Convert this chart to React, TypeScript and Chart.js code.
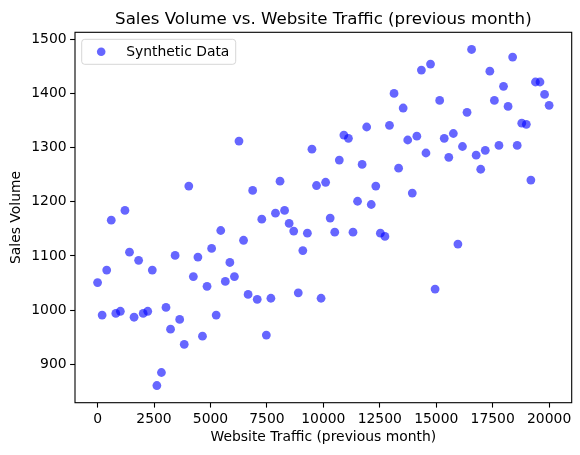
import React, { useEffect, useRef } from "react";
import { Chart, registerables } from "chart.js";

Chart.register(...registerables);

// ---- data ----
const websiteTraffic: number[] = [
  0, 202, 404, 606, 808, 1010, 1212, 1414, 1616, 1818,
  2020, 2222, 2424, 2626, 2828, 3030, 3232, 3434, 3636, 3838,
  4040, 4242, 4444, 4646, 4848, 5051, 5253, 5455, 5657, 5859,
  6061, 6263, 6465, 6667, 6869, 7071, 7273, 7475, 7677, 7879,
  8081, 8283, 8485, 8687, 8889, 9091, 9293, 9495, 9697, 9899,
  10101, 10303, 10505, 10707, 10909, 11111, 11313, 11515, 11717, 11919,
  12121, 12323, 12525, 12727, 12929, 13131, 13333, 13535, 13737, 13939,
  14141, 14343, 14545, 14747, 14949, 15152, 15354, 15556, 15758, 15960,
  16162, 16364, 16566, 16768, 16970, 17172, 17374, 17576, 17778, 17980,
  18182, 18384, 18586, 18788, 18990, 19192, 19394, 19596, 19798, 20000,
];

const salesVolume: number[] = [
  1051, 991, 1074, 1166, 994, 998, 1184, 1107, 987, 1092,
  994, 998, 1074, 861, 885, 1005, 965, 1101, 983, 937,
  1229, 1062, 1098, 952, 1044, 1114, 991, 1147, 1053, 1088,
  1062, 1312, 1129, 1029, 1221, 1020, 1168, 954, 1022, 1179,
  1238, 1184, 1160, 1146, 1032, 1110, 1142, 1297, 1230, 1022,
  1236, 1170, 1144, 1277, 1323, 1317, 1144, 1201, 1269, 1338,
  1195, 1229, 1142, 1136, 1341, 1400, 1262, 1373, 1314, 1216,
  1321, 1443, 1290, 1454, 1039, 1387, 1317, 1282, 1326, 1122,
  1302, 1365, 1481, 1286, 1260, 1295, 1441, 1387, 1304, 1413,
  1376, 1467, 1304, 1345, 1343, 1240, 1421, 1421, 1398, 1378,
];

const xTickValues: number[] = [0, 2500, 5000, 7500, 10000, 12500, 15000, 17500, 20000];
const yTickValues: number[] = [900, 1000, 1100, 1200, 1300, 1400, 1500];

const xLimits: number[] = [-1000, 21000];
const yLimits: number[] = [829.3, 1512.7];

const chartTitle = "Sales Volume vs. Website Traffic (previous month)";
const xAxisTitle = "Website Traffic (previous month)";
const yAxisTitle = "Sales Volume";
const seriesLabel = "Synthetic Data";

const FONT = "'DejaVu Sans', sans-serif";
const POINT_COLOR = "rgba(0, 0, 255, 0.6)";

const decorPlugin = {
  id: "mplDecor",
  afterDraw(chart: any) {
    const { ctx, chartArea } = chart;
    const { left, right, top, bottom } = chartArea;
    ctx.save();
    // frame
    ctx.strokeStyle = "#000";
    ctx.lineWidth = 1.1;
    ctx.strokeRect(left, top, right - left, bottom - top);
    // title
    ctx.fillStyle = "#000";
    ctx.font = `16.67px ${FONT}`;
    ctx.textAlign = "center";
    ctx.textBaseline = "alphabetic";
    ctx.fillText(chartTitle, (left + right) / 2, top - 8.4);
    // legend
    const bx = left + 6.7;
    const by = top + 7;
    const bw = 154;
    const bh = 25;
    const r = 3;
    ctx.beginPath();
    ctx.moveTo(bx + r, by);
    ctx.lineTo(bx + bw - r, by);
    ctx.quadraticCurveTo(bx + bw, by, bx + bw, by + r);
    ctx.lineTo(bx + bw, by + bh - r);
    ctx.quadraticCurveTo(bx + bw, by + bh, bx + bw - r, by + bh);
    ctx.lineTo(bx + r, by + bh);
    ctx.quadraticCurveTo(bx, by + bh, bx, by + bh - r);
    ctx.lineTo(bx, by + r);
    ctx.quadraticCurveTo(bx, by, bx + r, by);
    ctx.closePath();
    ctx.fillStyle = "rgba(255,255,255,0.8)";
    ctx.fill();
    ctx.strokeStyle = "rgba(204,204,204,0.8)";
    ctx.lineWidth = 1;
    ctx.stroke();
    ctx.beginPath();
    ctx.arc(bx + 19.5, by + bh / 2, 4.3, 0, Math.PI * 2);
    ctx.fillStyle = POINT_COLOR;
    ctx.fill();
    ctx.fillStyle = "#000";
    ctx.font = `13.9px ${FONT}`;
    ctx.textAlign = "left";
    ctx.textBaseline = "middle";
    ctx.fillText(seriesLabel, bx + 44.5, by + bh / 2 + 0.5);
    ctx.restore();
  },
};

export default function App() {
  const canvasRef = useRef<HTMLCanvasElement | null>(null);

  useEffect(() => {
    if (!canvasRef.current) return;
    const points = websiteTraffic.map((x, i) => ({ x, y: salesVolume[i] }));
    const tickFont = { family: FONT, size: 13.9 };
    const chart = new Chart(canvasRef.current, {
      type: "scatter",
      data: {
        datasets: [
          {
            label: seriesLabel,
            data: points,
            backgroundColor: POINT_COLOR,
            borderColor: POINT_COLOR,
            borderWidth: 0,
            pointRadius: 4.4,
            pointHoverRadius: 4.4,
          },
        ],
      },
      options: {
        responsive: false,
        animation: false,
        events: [],
        layout: { padding: { top: 32.3, right: 8.3, bottom: 0, left: 0 } },
        plugins: {
          legend: { display: false },
          title: { display: false },
          tooltip: { enabled: false },
        },
        scales: {
          x: {
            type: "linear",
            position: "bottom",
            min: xLimits[0],
            max: xLimits[1],
            afterBuildTicks: (s: any) => {
              s.ticks = xTickValues.map((v) => ({ value: v }));
            },
            afterFit: (s: any) => {
              s.height = 52.3;
            },
            ticks: {
              color: "#000",
              font: tickFont,
              padding: 3.5,
              maxRotation: 0,
              autoSkip: false,
              callback: (v: any) => String(v),
            },
            grid: {
              display: true,
              drawOnChartArea: false,
              drawTicks: true,
              tickLength: 4.9,
              tickWidth: 1.1,
              tickColor: "#000",
            },
            border: { display: false },
            title: {
              display: true,
              text: xAxisTitle,
              color: "#000",
              font: tickFont,
              padding: { top: 0, bottom: 9.4 },
            },
          },
          y: {
            type: "linear",
            position: "left",
            min: yLimits[0],
            max: yLimits[1],
            afterBuildTicks: (s: any) => {
              s.ticks = yTickValues.map((v) => ({ value: v }));
            },
            afterFit: (s: any) => {
              s.width = 75;
            },
            ticks: {
              color: "#000",
              font: tickFont,
              padding: 3.5,
              autoSkip: false,
              callback: (v: any) => String(v),
            },
            grid: {
              display: true,
              drawOnChartArea: false,
              drawTicks: true,
              tickLength: 4.9,
              tickWidth: 1.1,
              tickColor: "#000",
            },
            border: { display: false },
            title: {
              display: true,
              text: yAxisTitle,
              color: "#000",
              font: tickFont,
              padding: { top: 7.7, bottom: 0 },
            },
          },
        },
      },
      plugins: [decorPlugin],
    } as any);
    return () => chart.destroy();
  }, []);

  return (
    <div style={{ position: "absolute", left: 0, top: 0, width: 580, height: 455, background: "#fff" }}>
      <canvas ref={canvasRef} width={580} height={455} />
    </div>
  );
}
